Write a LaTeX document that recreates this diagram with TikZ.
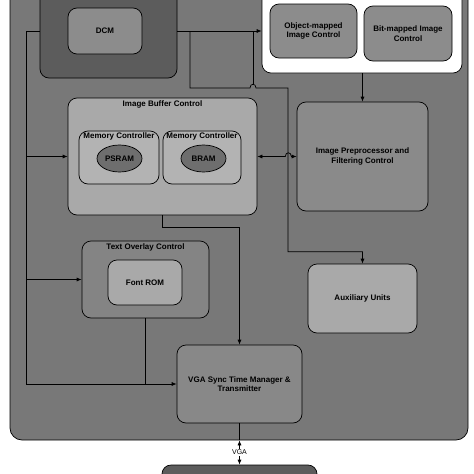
\documentclass[tikz,border=0pt]{standalone}
\usepackage{fontspec}
\setmainfont{Liberation Sans}
\usetikzlibrary{arrows, arrows.meta}
\usetikzlibrary{calc}
\usetikzlibrary{positioning}
\usetikzlibrary{shapes.geometric}

\definecolor{fpgafill}{HTML}{787878}
\definecolor{dcmdark}{HTML}{5C5C5C}
\definecolor{midgray}{HTML}{8C8C8C}
\definecolor{lightgray}{HTML}{A9A9A9}
\definecolor{palegray}{HTML}{B3B3B3}
\definecolor{ramgray}{HTML}{6E6E6E}

\tikzset{
  blk/.style={draw, rounded corners=9pt, align=center, inner sep=0pt},
  ttl/.style={inner sep=0pt, align=center},
  arr/.style={-{Latex[length=5pt, width=4pt]}},
  barr/.style={{Latex[length=5pt, width=4pt]}-{Latex[length=5pt, width=4pt]}}
}

\begin{document}
\begin{tikzpicture}[x=1pt, y=-1pt, line width=0.7pt, font=\fontsize{8}{9.5}\selectfont\bfseries]
        \fill[white] (0,0) rectangle (474,474);
        \clip (0,0) rectangle (474,474);

        % boards
        \node[blk, rounded corners=12pt, fill=fpgafill, minimum width=458pt, minimum height=460pt] (fpga) at (239,210) {};
        \node[blk, fill=dcmdark, minimum width=137pt, minimum height=98pt] (dcmarea) at (108.5,29) {};
        \node[blk, fill=white, minimum width=200pt, minimum height=93pt] (imgctl) at (362,26.5) {};
        \node[blk, fill=dcmdark, minimum width=155pt, minimum height=40pt] (monitor) at (239.5,485) {};

        \node[blk, fill=midgray, minimum width=74pt, minimum height=46pt] (dcm) at (105,31) {DCM};
        \node[blk, fill=midgray, minimum width=87pt, minimum height=54pt] (objimg) at (313.5,31) {Object-mapped\\Image Control};
        \node[blk, fill=midgray, minimum width=88pt, minimum height=55pt] (bitimg) at (408,33.5) {Bit-mapped Image\\Control};

        \node[blk, fill=lightgray, minimum width=189pt, minimum height=117pt] (buffer) at (162.5,156.5) {};
        \node[ttl, below=3pt of buffer.north] (buftitle) {Image Buffer Control};
        \node[blk, fill=palegray, minimum width=80pt, minimum height=53pt] (memctlA) at (119,157.5) {};
        \node[blk, fill=palegray, minimum width=78pt, minimum height=53pt] (memctlB) at (202,157.5) {};
        \node[ttl, below=2pt of memctlA.north] (memtitleA) {Memory Controller};
        \node[ttl, below=2pt of memctlB.north] (memtitleB) {Memory Controller};
        \node[ellipse, draw, fill=ramgray, minimum width=45pt, minimum height=27pt, inner sep=0pt] (psram) at (119.5,158.5) {PSRAM};
        \node[ellipse, draw, fill=ramgray, minimum width=45pt, minimum height=27pt, inner sep=0pt] (bram) at (203.5,158.5) {BRAM};

        \node[blk, fill=midgray!90!fpgafill, minimum width=131pt, minimum height=109pt] (preproc) at (362.5,156.5) {Image Preprocessor and\\Filtering Control};

        \node[blk, fill=midgray!60!fpgafill, minimum width=127pt, minimum height=77pt] (overlay) at (145.5,279.5) {};
        \node[ttl, below=3pt of overlay.north] (ovltitle) {Text Overlay Control};
        \node[blk, fill=lightgray, minimum width=74pt, minimum height=45pt] (fontrom) at (145,282.5) {Font ROM};

        \node[blk, fill=lightgray, minimum width=109pt, minimum height=69pt] (aux) at (362.5,298.5) {Auxiliary Units};
        \node[blk, fill=midgray!80!fpgafill, minimum width=125pt, minimum height=78pt] (vga) at (239.5,384) {VGA Sync Time Manager \&\\Transmitter};

        % clock lines
        \coordinate (clkL) at (26,31);
        \coordinate (clkA) at (190,31);
        \coordinate (clkB) at (253,31);
        \coordinate (jmp) at (250,88);

        \draw[arr] (dcmarea.east |- dcm) -- (imgctl.west |- dcm);
        \draw[arr] (dcmarea.west |- dcm) -- (clkL) |- (vga.west);
        \draw[arr] (clkL |- buffer) -- (buffer.west);
        \draw[arr] (clkL |- overlay) -- (overlay.west);
        \draw[arr] (clkA) |- (jmp) .. controls +(0,-5) and +(0,-5) .. ++(6,0) -| ($(aux.north)+(-74.5,-12)$) -| (aux.north);
        \draw (clkB) -- ($(jmp)+(3,-3.5)$);

        % data lines
        \draw[arr] (imgctl.south -| preproc) -- (preproc.north);
        \draw[barr] (buffer.east) -- ++(28,0) .. controls +(0,-5) and +(0,-5) .. ++(6,0) -- (preproc.west);
        \draw[arr] (buffer.south) -- ++(0,12) -| (vga.north);
        \draw (overlay.south) -- (overlay.south |- vga.west);
        \draw (vga.south) -- (vga.south |- fpga.south);
        \draw[barr] (vga.south |- fpga.south) -- (monitor.north) node[midway, fill=white, inner sep=1pt, font=\fontsize{7}{8}\selectfont] (vgalbl) {VGA};
      \end{tikzpicture}
\end{document}
